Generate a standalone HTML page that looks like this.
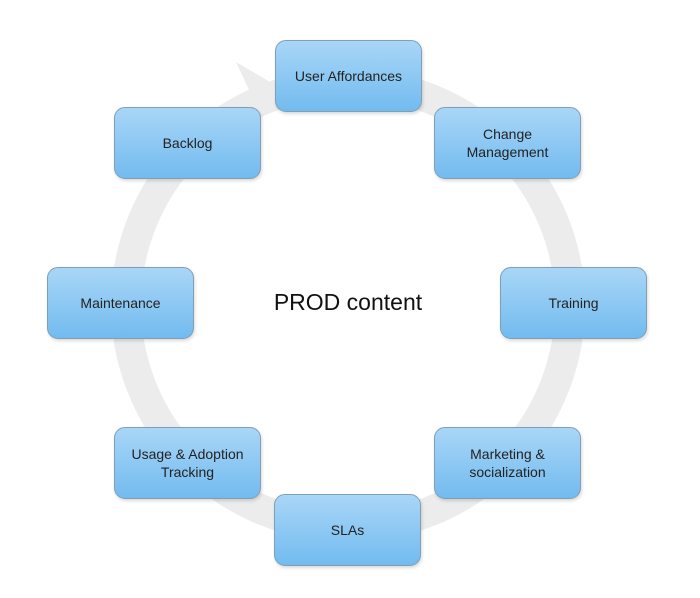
<!DOCTYPE html>
<html><head><style>
body{margin:0;width:700px;height:598px;background:#fff;position:relative;overflow:hidden;font-family:"Liberation Sans",sans-serif}
.b{position:absolute;width:147px;height:72px;border:1px solid #7f9fb5;border-radius:11px;background:linear-gradient(#a9d6f7,#72bbef);box-sizing:border-box;display:flex;align-items:center;justify-content:center;text-align:center;font-size:14px;line-height:18px;color:#222;box-shadow:1px 2px 3px rgba(0,0,0,.15)}
</style></head><body>
<svg width="700" height="598" style="position:absolute;left:0;top:0">
<circle cx="348" cy="305" r="222" fill="none" stroke="#ececec" stroke-width="30"/>
<polygon points="236,62 270,82 262,118" fill="#ececec"/>
</svg>
<div class="b" style="left:275px;top:40px">User Affordances</div>
<div class="b" style="left:434px;top:107px">Change<br>Management</div>
<div class="b" style="left:500px;top:267px">Training</div>
<div class="b" style="left:434px;top:427px">Marketing &amp;<br>socialization</div>
<div class="b" style="left:274px;top:494px">SLAs</div>
<div class="b" style="left:114px;top:427px">Usage &amp; Adoption<br>Tracking</div>
<div class="b" style="left:47px;top:267px">Maintenance</div>
<div class="b" style="left:114px;top:107px">Backlog</div>
<div style="position:absolute;left:248px;top:289px;width:200px;text-align:center;font-size:23px;color:#111">PROD content</div>
</body></html>
